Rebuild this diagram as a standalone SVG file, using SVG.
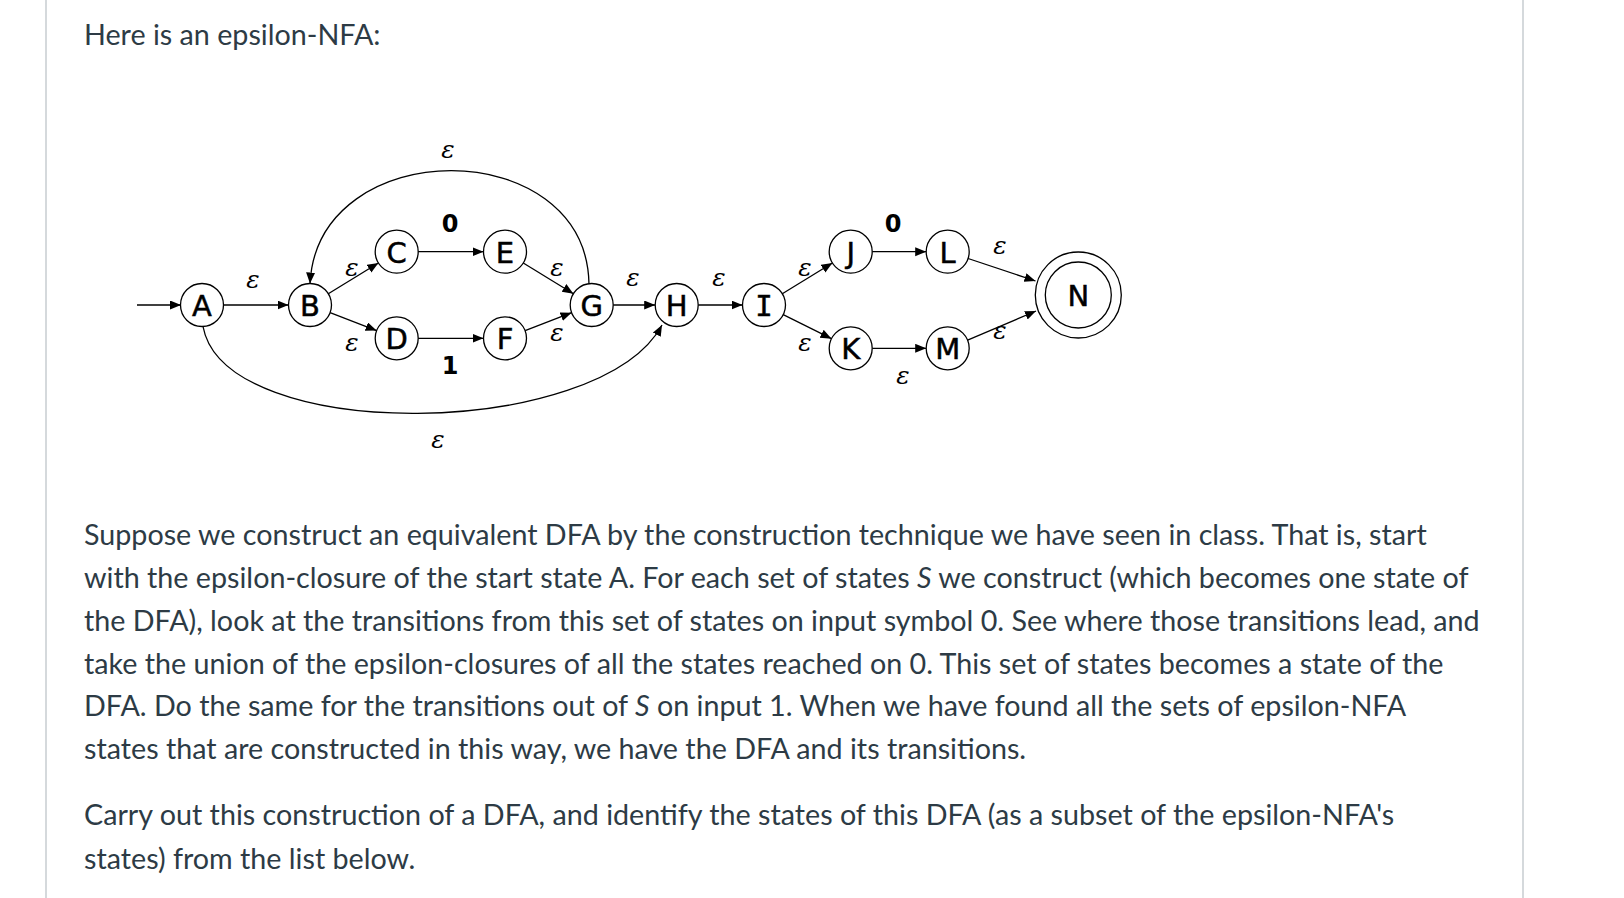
<svg xmlns="http://www.w3.org/2000/svg" width="1624" height="898" viewBox="0 0 1624 898">
<style>
.body{font-family:Lato,"Open Sans","Liberation Sans",sans-serif;font-size:28.7px;fill:#2d3b45}
.st circle{fill:#fff;stroke:#000;stroke-width:1.3}
.st text{font-family:"DejaVu Sans",sans-serif;font-size:29px;fill:#000;stroke:#000;stroke-width:0.5;text-anchor:middle}
.edge{fill:none;stroke:#000;stroke-width:1.3}
.eps{font-family:"DejaVu Serif",serif;font-style:italic;font-size:25px;fill:#000;text-anchor:middle}
.sym{font-family:"DejaVu Sans",sans-serif;font-weight:bold;font-size:24px;fill:#000;text-anchor:middle}
.border{stroke:#c7cdd1;stroke-width:1.5}
</style>
<defs>
<marker id="arr" markerUnits="userSpaceOnUse" markerWidth="12" markerHeight="10" refX="11" refY="4.5" orient="auto">
<path d="M0,0 L11,4.5 L0,9 z" fill="#000"/>
</marker>
</defs>
<rect x="0" y="0" width="1624" height="898" fill="#fff"/>
<line class="border" x1="46" y1="0" x2="46" y2="898"/>
<line class="border" x1="1523" y1="0" x2="1523" y2="898"/>
<text class="body" x="84" y="45">Here is an epsilon-NFA:</text>

<g id="connectors">
<path class="edge" marker-end="url(#arr)" d="M137 305 L181 305"/>
<path class="edge" marker-end="url(#arr)" d="M223.5 305 L288.5 305"/>
<path class="edge" marker-end="url(#arr)" d="M328.3 293.7 L378.4 263"/>
<path class="edge" marker-end="url(#arr)" d="M330.1 312.7 L376.6 330.6"/>
<path class="edge" marker-end="url(#arr)" d="M418 251.7 L483.5 251.7"/>
<path class="edge" marker-end="url(#arr)" d="M418 338.3 L483.5 338.3"/>
<path class="edge" marker-end="url(#arr)" d="M523.3 263 L573.4 293.7"/>
<path class="edge" marker-end="url(#arr)" d="M525.1 330.6 L571.6 312.7"/>
<path class="edge" marker-end="url(#arr)" d="M589 284 C586 133, 318 133, 310 283.5"/>
<path class="edge" marker-end="url(#arr)" d="M203 326.5 C225 445, 600 440, 662 325"/>
<path class="edge" marker-end="url(#arr)" d="M613.2 305 L655.2 305"/>
<path class="edge" marker-end="url(#arr)" d="M698.2 305 L742.5 305"/>
<path class="edge" marker-end="url(#arr)" d="M782.3 293.7 L832.4 263"/>
<path class="edge" marker-end="url(#arr)" d="M783.2 314.6 L831.5 338.7"/>
<path class="edge" marker-end="url(#arr)" d="M872.2 251.7 L926.2 251.7"/>
<path class="edge" marker-end="url(#arr)" d="M872.2 348.3 L926.2 348.3"/>
<path class="edge" marker-end="url(#arr)" d="M968.1 258.5 L1035.5 281"/>
<path class="edge" marker-end="url(#arr)" d="M967.6 340.2 L1036 311"/>
<text class="eps" x="253" y="288">ε</text>
<text class="eps" x="352" y="276">ε</text>
<text class="eps" x="352" y="351">ε</text>
<text class="sym" x="450" y="232">0</text>
<text class="sym" x="450" y="374">1</text>
<text class="eps" x="557" y="276">ε</text>
<text class="eps" x="557" y="341">ε</text>
<text class="eps" x="448" y="158">ε</text>
<text class="eps" x="438" y="448">ε</text>
<text class="eps" x="633" y="286">ε</text>
<text class="eps" x="719" y="286">ε</text>
<text class="eps" x="805" y="276">ε</text>
<text class="eps" x="805" y="351">ε</text>
<text class="sym" x="893" y="232">0</text>
<text class="eps" x="903" y="384">ε</text>
<text class="eps" x="1000" y="254">ε</text>
<text class="eps" x="1000" y="339">ε</text>
</g>

<g id="A" class="st"><circle cx="202" cy="305" r="21.5"/><text x="202" y="316">A</text></g>
<g id="B" class="st"><circle cx="310" cy="305" r="21.5"/><text x="310" y="316">B</text></g>
<g id="C" class="st"><circle cx="396.7" cy="251.7" r="21.5"/><text x="396.7" y="262.7">C</text></g>
<g id="D" class="st"><circle cx="396.7" cy="338.3" r="21.5"/><text x="396.7" y="349.3">D</text></g>
<g id="E" class="st"><circle cx="505" cy="251.7" r="21.5"/><text x="505" y="262.7">E</text></g>
<g id="F" class="st"><circle cx="505" cy="338.3" r="21.5"/><text x="505" y="349.3">F</text></g>
<g id="G" class="st"><circle cx="591.7" cy="305" r="21.5"/><text x="591.7" y="316">G</text></g>
<g id="H" class="st"><circle cx="676.7" cy="305" r="21.5"/><text x="676.7" y="316">H</text></g>
<g id="I" class="st"><circle cx="764" cy="305" r="21.5"/><text x="764" y="316" style="font-family:'DejaVu Sans Mono',monospace">I</text></g>
<g id="J" class="st"><circle cx="850.7" cy="251.7" r="21.5"/><text x="850.7" y="262.7">J</text></g>
<g id="K" class="st"><circle cx="850.7" cy="348.3" r="21.5"/><text x="850.7" y="359.3">K</text></g>
<g id="L" class="st"><circle cx="947.7" cy="251.7" r="21.5"/><text x="947.7" y="262.7">L</text></g>
<g id="M" class="st"><circle cx="947.7" cy="348.3" r="21.5"/><text x="947.7" y="359.3">M</text></g>
<g id="N" class="st"><circle cx="1078.3" cy="295" r="43"/><circle cx="1078.3" cy="295" r="33"/><text x="1078.3" y="306">N</text></g>

<text class="body" x="84" y="545">Suppose we construct an equivalent DFA by the construction technique we have seen in class. That is, start</text>
<text class="body" x="84" y="588">with the epsilon-closure of the start state A. For each set of states <tspan font-style="italic">S</tspan> we construct (which becomes one state of</text>
<text class="body" x="84" y="631">the DFA), look at the transitions from this set of states on input symbol 0. See where those transitions lead, and</text>
<text class="body" x="84" y="674">take the union of the epsilon-closures of all the states reached on 0. This set of states becomes a state of the</text>
<text class="body" x="84" y="716">DFA. Do the same for the transitions out of <tspan font-style="italic">S</tspan> on input 1. When we have found all the sets of epsilon-NFA</text>
<text class="body" x="84" y="759">states that are constructed in this way, we have the DFA and its transitions.</text>
<text class="body" x="84" y="825">Carry out this construction of a DFA, and identify the states of this DFA (as a subset of the epsilon-NFA's</text>
<text class="body" x="84" y="869">states) from the list below.</text>
</svg>
